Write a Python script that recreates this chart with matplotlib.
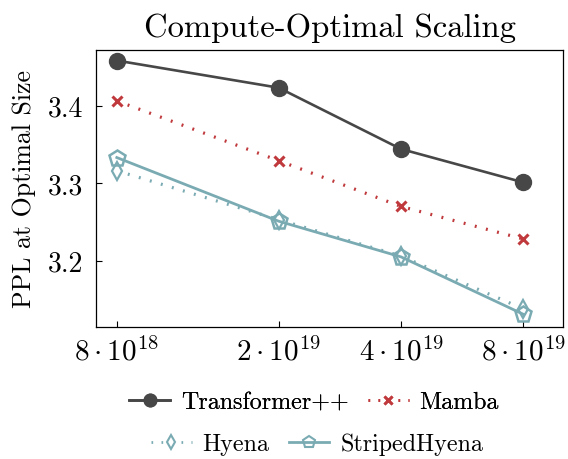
import matplotlib
matplotlib.use("Agg")
import matplotlib.pyplot as plt
from matplotlib.lines import Line2D

plt.rcParams['font.family'] = 'serif'
plt.rcParams['font.serif'] = ['cmr10']
plt.rcParams['mathtext.fontset'] = 'cm'
plt.rcParams['axes.formatter.use_mathtext'] = True

# compute budgets (FLOPs) and perplexity at compute-optimal size
compute = [8e18, 2e19, 4e19, 8e19]
compute_labels = [r'$8\cdot10^{18}$', r'$2\cdot10^{19}$', r'$4\cdot10^{19}$', r'$8\cdot10^{19}$']
transformer_pp = [3.458, 3.423, 3.344, 3.301]
mamba = [3.406, 3.329, 3.270, 3.228]
hyena = [3.316, 3.253, 3.206, 3.138]
striped_hyena = [3.333, 3.251, 3.205, 3.131]

dark = '#474747'
red = '#c0393c'
teal = '#7aabb3'

fig = plt.figure(figsize=(5.68, 4.6), dpi=100)
ax = fig.add_axes([0.169, 0.2876, 0.8227, 0.6022])

ax.plot(compute, transformer_pp, color=dark, lw=1.9, marker='o', ms=11.5)
ax.plot(compute, mamba, color=red, lw=2.3, ls=(0, (0.6, 3.0)), marker='x', ms=7, mew=2.2)
ax.plot(compute, hyena, color=teal, lw=2.3, ls=(0, (0.6, 3.0)), marker='d', ms=9,
        mfc='white', mew=1.6)
ax.plot(compute, striped_hyena, color=teal, lw=2.0, marker='p', ms=12,
        mfc='none', mew=1.8)

ax.set_xscale('log')
ax.set_xlim(7.11e18, 1.003e20)
ax.set_ylim(3.115, 3.472)
ax.set_xticks(compute)
ax.set_xticklabels(compute_labels)
ax.minorticks_off()
ax.set_yticks([3.2, 3.3, 3.4])
ax.set_yticklabels(['3.2', '3.3', '3.4'])
ax.tick_params(direction='in', length=4, width=0.8, labelsize=20, top=False, right=False)
ax.tick_params(axis='y', pad=9)
ax.tick_params(axis='x', pad=7, labelsize=21)
for s in ax.spines.values():
    s.set_linewidth(0.9)

ax.set_ylabel('PPL at Optimal Size', fontsize=18.6, labelpad=9)
ax.set_title('Compute-Optimal Scaling', fontsize=23.5, pad=10)

row1 = [Line2D([], [], color=dark, lw=1.9, marker='o', ms=9),
        Line2D([], [], color=red, lw=2.0, ls=(0, (0.6, 3.0)), marker='x', ms=6, mew=2)]
row2 = [Line2D([], [], color=teal, lw=2.0, ls=(0, (0.6, 3.0)), marker='d', ms=7,
               mfc='white', mew=1.5),
        Line2D([], [], color=teal, lw=2.0, marker='p', ms=9, mfc='none', mew=1.5)]
leg_kw = dict(ncol=2, frameon=False, fontsize=17.3, handlelength=1.7,
              handletextpad=0.45, columnspacing=0.8, borderpad=0, loc='center')
leg1 = fig.legend(row1, ['Transformer++', 'Mamba'], bbox_to_anchor=(0.553, 0.124), **leg_kw)
fig.add_artist(leg1)
fig.legend(row2, ['Hyena', 'StripedHyena'], bbox_to_anchor=(0.558, 0.033), **leg_kw)

fig.savefig('out.png', dpi=100)
